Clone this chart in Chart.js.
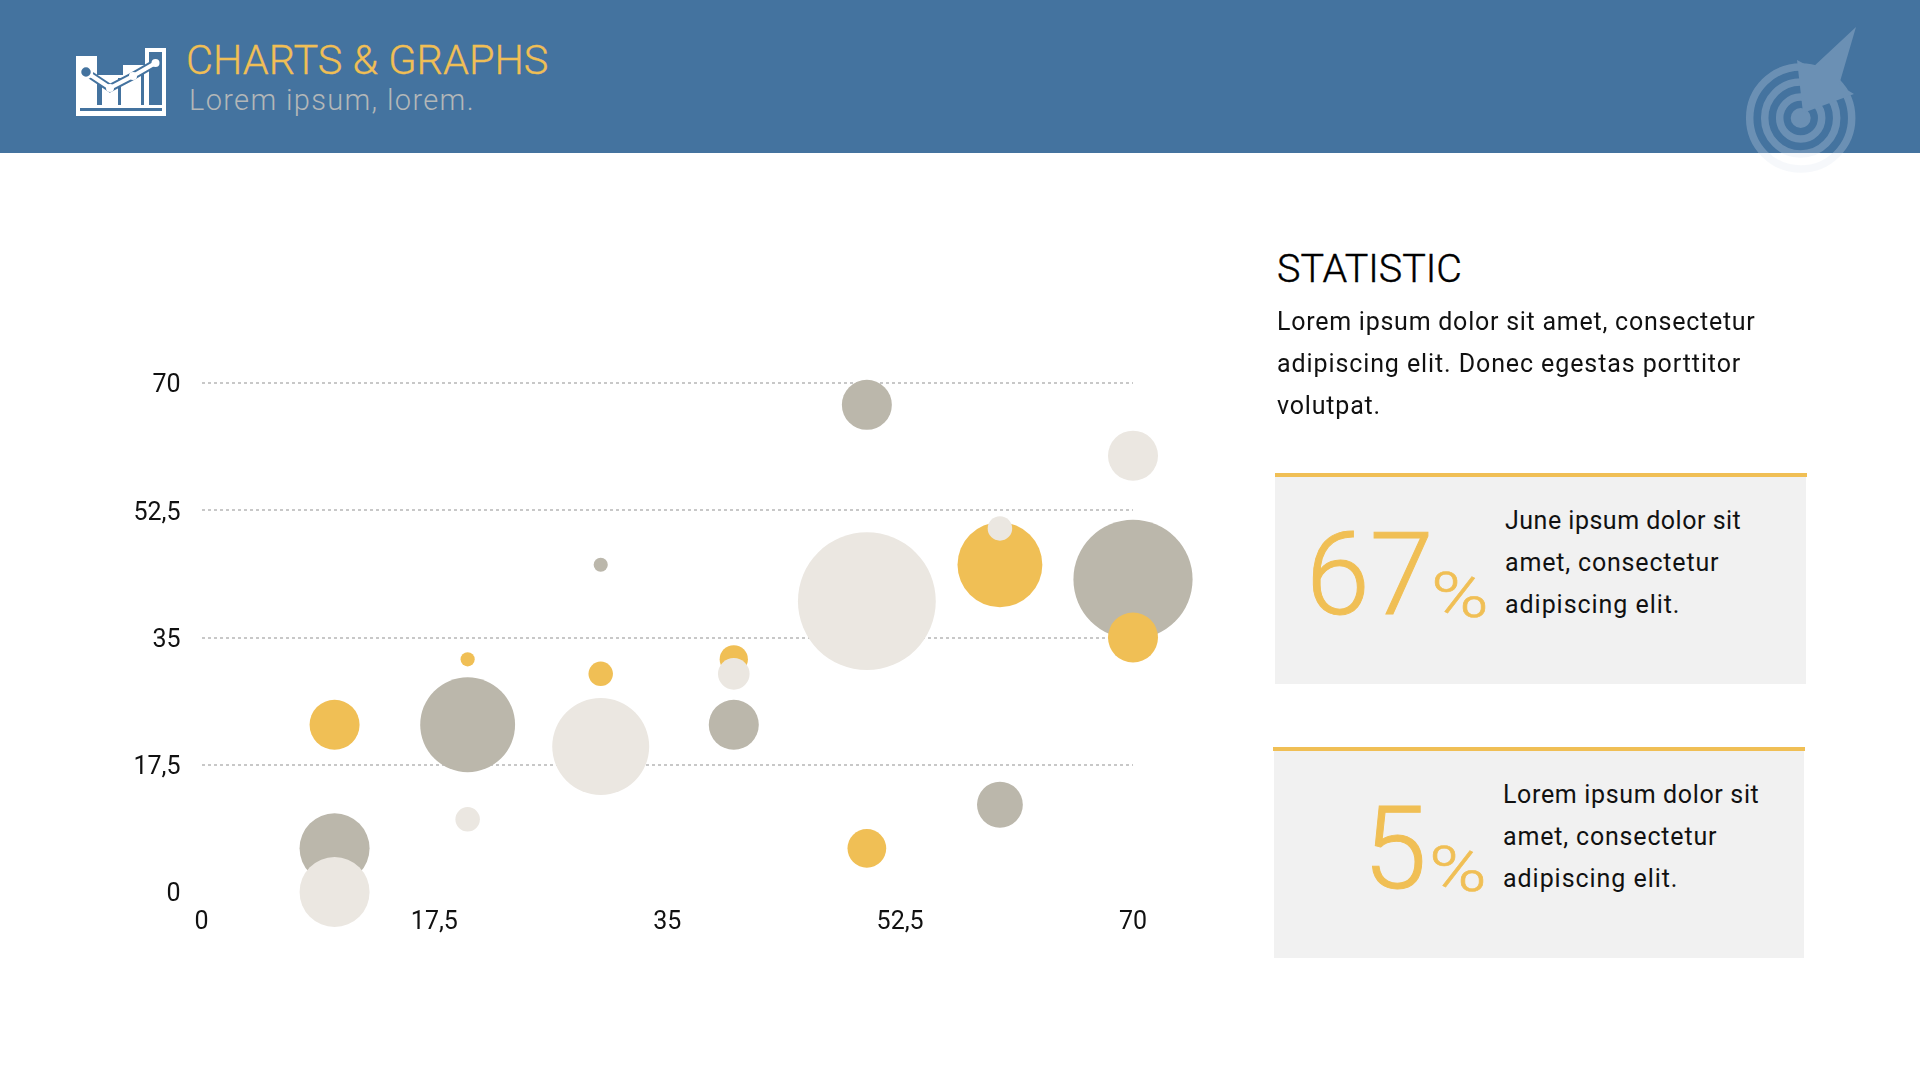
<!DOCTYPE html>
<html>
<head>
<meta charset="utf-8">
<title>Charts & Graphs</title>
<script src="https://cdn.jsdelivr.net/npm/chart.js@4"></script>
<style>
  html, body { margin: 0; padding: 0; width: 1920px; height: 1080px; background: #fff; overflow: hidden; }
  body { font-family: Roboto, sans-serif; color: #111; position: relative; }
  .abs { position: absolute; white-space: nowrap; }
  .header { position: absolute; left: 0; top: 0; width: 1920px; height: 153px; background: #44739f; }
  .title { left: 186px; top: 35px; font-size: 41.5px; font-weight: 300; line-height: 49px; color: #f0bf55; -webkit-text-stroke: 0.3px #f0bf55; }
  .subtitle { left: 189px; top: 83px; font-size: 29px; font-weight: 300; line-height: 34px; color: #b3b7b8; letter-spacing: 1.35px; }
  .stat-title { left: 1277px; top: 245px; font-size: 39.5px; font-weight: 300; line-height: 47px; color: #000; -webkit-text-stroke: 0.4px #000; }
  .body-text { font-size: 25px; line-height: 42px; letter-spacing: 0.82px; color: #111; }
  .box { position: absolute; background: #f1f1f1; }
  .rule { position: absolute; background: #f0bf55; height: 4px; }
  .big { font-size: 115px; font-weight: 300; line-height: 137px; color: #f0bf55; -webkit-text-stroke: 1px #f0bf55; }
  .pct { font-size: 63px; font-weight: 300; line-height: 75px; color: #f0bf55; -webkit-text-stroke: 0.6px #f0bf55; transform: scaleX(1.24); transform-origin: left center; }
  #chartBox { position: absolute; left: 100px; top: 340px; width: 1200px; height: 640px; }
</style>
</head>
<body>
<div class="header"></div>

<!-- chart icon in the header -->
<svg class="abs" style="left:76px;top:48px" width="90" height="68" viewBox="0 0 90 68">
  <rect x="0" y="8" width="21" height="60" fill="#fff"/>
  <rect x="21" y="27" width="26" height="41" fill="#fff"/>
  <rect x="47" y="17" width="22" height="51" fill="#fff"/>
  <rect x="69" y="0" width="21" height="68" fill="#fff"/>
  <rect x="21" y="30" width="5" height="27" fill="#44739f"/>
  <rect x="42" y="30" width="3" height="27" fill="#44739f"/>
  <rect x="65" y="20" width="3" height="37" fill="#44739f"/>
  <rect x="73" y="4" width="13" height="53" fill="#44739f"/>
  <rect x="4" y="60" width="82" height="3" fill="#44739f"/>
  <polyline points="10,24 34,40 57,28 79.5,15" fill="none" stroke="#44739f" stroke-width="8"/>
  <polyline points="10,24 34,40 57,28 79.5,15" fill="none" stroke="#fff" stroke-width="4"/>
  <circle cx="10" cy="24" r="6" fill="#44739f" stroke="#fff" stroke-width="2.5"/>
  <circle cx="34" cy="40" r="4" fill="#fff"/>
  <circle cx="57" cy="28" r="4" fill="#fff"/>
  <circle cx="79.5" cy="15" r="4" fill="#fff"/>
</svg>

<div class="abs title">CHARTS &amp; GRAPHS</div>
<div class="abs subtitle">Lorem ipsum, lorem.</div>

<!-- faded target in the header corner -->
<svg class="abs" style="left:1730px;top:10px" width="150" height="180" viewBox="1730 10 150 180">
  <g fill="none" stroke="#dce4f1" stroke-opacity="0.26" stroke-width="7.5">
    <circle cx="1800.7" cy="118" r="51"/>
    <circle cx="1800.7" cy="118" r="36"/>
    <circle cx="1800.7" cy="118" r="21"/>
  </g>
  <circle cx="1800.7" cy="118" r="10" fill="#dce4f1" fill-opacity="0.26"/>
  <polygon points="1856,27 1812,68 1797,60 1803,113 1854,94 1839,85" fill="#6b90b4"/>
</svg>

<div id="chartBox"><canvas id="chart"></canvas></div>

<div class="abs stat-title">STATISTIC</div>
<div class="abs body-text" style="left:1277px;top:301px;letter-spacing:.75px">Lorem ipsum dolor sit amet, consectetur</div>
<div class="abs body-text" style="left:1277px;top:343px;letter-spacing:.9px">adipiscing elit. Donec egestas porttitor</div>
<div class="abs body-text" style="left:1277px;top:385px">volutpat.</div>

<div class="box" style="left:1275px;top:476px;width:531px;height:208px"></div>
<div class="rule" style="left:1275px;top:473px;width:532px"></div>
<div class="abs big" style="left:1306px;top:506px">67</div>
<div class="abs pct" style="left:1431px;top:558px">%</div>
<div class="abs body-text" style="left:1505px;top:500px;letter-spacing:.5px">June ipsum dolor sit</div>
<div class="abs body-text" style="left:1505px;top:542px">amet, consectetur</div>
<div class="abs body-text" style="left:1505px;top:584px;letter-spacing:.95px">adipiscing elit.</div>

<div class="box" style="left:1274px;top:750px;width:530px;height:208px"></div>
<div class="rule" style="left:1273px;top:747px;width:532px"></div>
<div class="abs big" style="left:1363px;top:780px">5</div>
<div class="abs pct" style="left:1429px;top:832px">%</div>
<div class="abs body-text" style="left:1503px;top:774px;letter-spacing:.65px">Lorem ipsum dolor sit</div>
<div class="abs body-text" style="left:1503px;top:816px">amet, consectetur</div>
<div class="abs body-text" style="left:1503px;top:858px;letter-spacing:.95px">adipiscing elit.</div>

<script>
// Chart data
var xValues = [10, 20, 30, 40, 50, 60, 70];
var tickValues = [0, 17.5, 35, 52.5, 70];
var tickLabels = ['0', '17,5', '35', '52,5', '70'];

var yellowY = [23, 32, 30, 32, 6, 45, 35];
var yellowSize = [25, 2, 6, 8, 15, 72, 25];

var greyY = [6, 23, 45, 23, 67, 12, 43];
var greySize = [49, 90, 2, 25, 25, 21, 142];

var lightY = [0, 10, 20, 30, 40, 50, 60];
var lightSize = [49, 6, 94, 10, 190, 6, 25];

// Bubble area follows the size value
function toPoints(ys, sizes) {
  return xValues.map(function (x, i) {
    return { x: x, y: ys[i], r: 5 * Math.sqrt(sizes[i]) };
  });
}

function bubbleSet(label, ys, sizes, color) {
  return {
    label: label,
    data: toPoints(ys, sizes),
    backgroundColor: color,
    borderWidth: 0,
    hoverBorderWidth: 0,
    clip: false
  };
}

function tickText(value, index) {
  return tickLabels[index];
}

function useTickValues(scale) {
  scale.ticks = tickValues.map(function (v) { return { value: v }; });
}

var tickFont = { family: 'Roboto', size: 25 };

var ctx = document.getElementById('chart').getContext('2d');
new Chart(ctx, {
  type: 'bubble',
  data: {
    // first dataset ends up on top
    datasets: [
      bubbleSet('Light', lightY, lightSize, '#ebe7e1'),
      bubbleSet('Yellow', yellowY, yellowSize, '#f0bf55'),
      bubbleSet('Grey', greyY, greySize, '#bbb7ab')
    ]
  },
  options: {
    responsive: true,
    maintainAspectRatio: false,
    animation: false,
    // no extra room for the big bubbles, they may spill over the plot
    layout: { autoPadding: false, padding: { top: 43, right: 167, bottom: 0, left: 0 } },
    plugins: { legend: { display: false }, tooltip: { enabled: false } },
    scales: {
      x: {
        type: 'linear',
        min: 0,
        max: 70,
        afterBuildTicks: useTickValues,
        afterFit: function (scale) {
          scale.height = 88;
          scale.paddingLeft = 0;
          scale.paddingRight = 0;
        },
        grid: { display: false },
        border: { display: false },
        ticks: { maxRotation: 0, autoSkip: false, padding: 8, color: '#111', font: tickFont, callback: tickText }
      },
      y: {
        type: 'linear',
        min: 0,
        max: 70,
        afterBuildTicks: useTickValues,
        afterFit: function (scale) {
          scale.width = 101.5;
          scale.paddingTop = 0;
          scale.paddingBottom = 0;
        },
        grid: {
          drawTicks: false,
          lineWidth: 2,
          color: function (c) { return c.tick && c.tick.value === 0 ? 'rgba(0,0,0,0)' : '#c8c8c8'; }
        },
        border: { display: false, dash: [3, 3] },
        ticks: { padding: 21, labelOffset: 3, color: '#111', font: tickFont, callback: tickText }
      }
    }
  }
});
</script>
</body>
</html>
